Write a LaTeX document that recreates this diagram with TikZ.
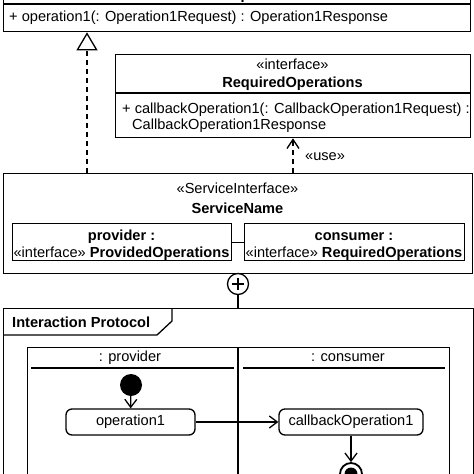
\documentclass[tikz,border=0pt]{standalone}
\usepackage{fontspec}
\setmainfont{Liberation Sans}
\usetikzlibrary{arrows.meta}
\tikzset{
  base/.style={line width=1.3pt},
  box/.style={draw, base, rectangle, inner sep=0pt, anchor=north west},
  txt/.style={inner sep=0pt},
  action/.style={draw, base, rectangle, rounded corners=6pt, inner sep=0pt, minimum width=129pt, minimum height=26pt},
  dep/.style={base, dash pattern=on 5pt off 4pt},
  flow/.style={base, -{Straight Barb[length=8pt,width=12pt]}},
}
\begin{document}
\begin{tikzpicture}[x=1pt,y=-1pt,font=\fontsize{14.6}{17}\selectfont]
\useasboundingbox (0,0) rectangle (474,474);
\clip (0,0) rectangle (474,474);
\fill[white] (0,0) rectangle (474,474);

% top interface (provided)
\node[box, minimum width=467pt, minimum height=61pt] (prov) at (3,-30) {};
\draw[base] (3,4) -- (470,4);
\node[txt, anchor=base] (provname) at (236.5,-1) {\textbf{ProvidedOperations}};
\node[txt, anchor=west] (provop) at (9,18) {+ operation1(: Operation1Request) : Operation1Response};

% required interface
\node[box, minimum width=355pt, minimum height=83pt] (req) at (115,54) {};
\draw[base] (115,93) -- (470,93);
\node[txt] (reqst) at (292.5,64) {«interface»};
\node[txt] (reqname) at (292.5,84) {\textbf{RequiredOperations}};
\node[txt, anchor=west] (reqop1) at (122,110) {+ callbackOperation1(: CallbackOperation1Request) :};
\node[txt, anchor=west] (reqop2) at (132,126) {CallbackOperation1Response};

% service interface
\node[box, minimum width=469pt, minimum height=100pt] (svc) at (3,173) {};
\node[txt] (svcst) at (237.5,188) {«ServiceInterface»};
\node[txt] (svcname) at (237.5,208) {\textbf{ServiceName}};
\node[box, minimum width=219pt, minimum height=37pt] (pp) at (12,223) {};
\node[txt] (pp1) at (121.5,237) {\textbf{provider :}};
\node[txt] (pp2) at (121.5,254) {«interface» \textbf{ProvidedOperations}};
\node[box, minimum width=220pt, minimum height=37pt] (cp) at (244,223) {};
\node[txt] (cp1) at (354,237) {\textbf{consumer :}};
\node[txt] (cp2) at (354,254) {«interface» \textbf{RequiredOperations}};
\draw[base] (pp.east) -- (cp.west);

% realization and usage
\coordinate (rx) at (87,0);
\coordinate (ux) at (293,0);
\draw[dep, -{Triangle[open,length=18pt,width=21pt]}] (svc.north -| rx) -- (prov.south -| rx);
\draw[dep, -{Straight Barb[length=9pt,width=12pt]}] (svc.north -| ux) -- (req.south -| ux);
\node[txt, anchor=west] (use) at (305,157) {«use»};

% nesting connector
\node[draw, base, circle, minimum size=21pt, inner sep=0pt] (nest) at (238,284) {};
\draw[base] ([yshift=-6pt]nest.center) -- ([yshift=6pt]nest.center);
\draw[base] ([xshift=-6pt]nest.center) -- ([xshift=6pt]nest.center);

% frame
\node[box, minimum width=470pt, minimum height=200pt] (frame) at (3,308) {};
\draw[base] (nest.south) -- (frame.north -| nest);
\draw[base] (3,335) -- (157,335) -- (172,321) -- (172,308);
\node[txt, anchor=west] (ftitle) at (12,322) {\textbf{Interaction Protocol}};

% partitions
\node[box, minimum width=422pt, minimum height=200pt] (part) at (27,347) {};
\draw[base] (238,347) -- (238,500);
\node[txt] (pl) at (130,358) {: provider};
\node[txt] (cl) at (348,358) {: consumer};
\draw[line width=1.6pt] (31,368) -- (234,368);
\draw[line width=1.6pt] (243,368) -- (445,368);

% activity
\node[circle, fill=black, minimum size=22pt, inner sep=0pt] (init) at (131,385) {};
\node[action] (op1) at (130.5,422) {operation1};
\node[action, minimum width=144pt] (cb) at (351,422) {callbackOperation1};
\node[circle, draw, line width=1.8pt, minimum size=22pt, inner sep=0pt] (fin) at (351,474) {};
\fill (fin.center) circle (6.5pt);
\draw[flow] (init) -- (op1);
\draw[flow] (op1) -- (cb);
\draw[flow] (cb) -- (fin);
\end{tikzpicture}
\end{document}
